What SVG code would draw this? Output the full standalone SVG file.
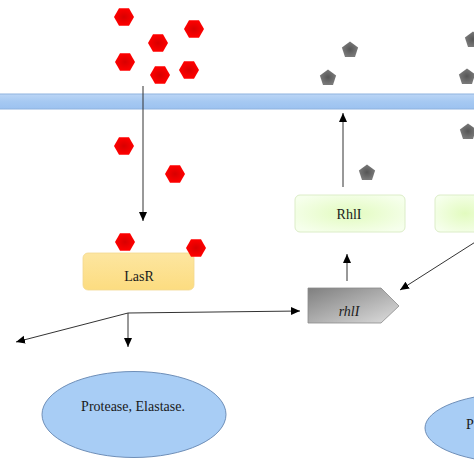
<svg xmlns="http://www.w3.org/2000/svg" width="474" height="474" viewBox="0 0 474 474">
<defs>
<linearGradient id="mem" x1="0" y1="0" x2="0" y2="1"><stop offset="0" stop-color="#bcd6f6"/><stop offset="0.5" stop-color="#a6c9f2"/><stop offset="1" stop-color="#9cc2f0"/></linearGradient>
<linearGradient id="las" x1="0" y1="0" x2="0" y2="1"><stop offset="0" stop-color="#fde6a0"/><stop offset="1" stop-color="#fcdc80"/></linearGradient>
<radialGradient id="rhl" cx="0.5" cy="0.5" r="0.6"><stop offset="0" stop-color="#e2fbbf"/><stop offset="1" stop-color="#f6ffec"/></radialGradient>
<linearGradient id="gene" x1="0" y1="0" x2="1" y2="1"><stop offset="0" stop-color="#7f7f7f"/><stop offset="1" stop-color="#dedede"/></linearGradient>
<radialGradient id="hexg"><stop offset="0" stop-color="#d80000"/><stop offset="1" stop-color="#ff0000"/></radialGradient>
<radialGradient id="peng"><stop offset="0" stop-color="#555"/><stop offset="1" stop-color="#7a7a7a"/></radialGradient>
<polygon id="hex" points="-10,0 -5,-8.7 5,-8.7 10,0 5,8.7 -5,8.7" fill="url(#hexg)"/>
<polygon id="pent" points="0,-8.5 8.1,-2.6 5,6.9 -5,6.9 -8.1,-2.6" fill="url(#peng)"/>
<marker id="ah" markerWidth="10" markerHeight="10" refX="9" refY="5" orient="auto" markerUnits="userSpaceOnUse"><path d="M0,1 L9,5 L0,9 z" fill="#000"/></marker>
</defs>
<style>
.lbl{font-family:"Liberation Serif","Times New Roman",serif;font-size:14px;fill:#1a1a1a;text-anchor:middle}
.ln{stroke:#333;stroke-width:1;fill:none}
</style>
<rect width="474" height="474" fill="#fff"/>
<rect id="membrane" x="-2" y="94" width="478" height="15" fill="url(#mem)" stroke="#8fb3df" stroke-width="1"/>
<g id="ahl">
<use href="#hex" x="124" y="17"/><use href="#hex" x="194" y="29"/><use href="#hex" x="158" y="43"/>
<use href="#hex" x="125" y="62"/><use href="#hex" x="160" y="75"/><use href="#hex" x="189" y="70"/>
<use href="#hex" x="124" y="146"/><use href="#hex" x="175" y="174"/>
</g>
<g id="ai">
<use href="#pent" x="350" y="50"/><use href="#pent" x="328" y="78"/><use href="#pent" x="467" y="77"/>
<use href="#pent" x="473" y="40"/><use href="#pent" x="468" y="132"/><use href="#pent" x="367" y="173"/>
</g>
<g id="connectors">
<line class="ln" x1="143" y1="86" x2="143" y2="221" marker-end="url(#ah)"/>
<line class="ln" x1="343" y1="187" x2="343" y2="113" marker-end="url(#ah)"/>
<line class="ln" x1="347" y1="281" x2="347" y2="254" marker-end="url(#ah)"/>
<polyline class="ln" points="128,313 300,311" marker-end="url(#ah)"/>
<line class="ln" x1="128" y1="313" x2="128" y2="347" marker-end="url(#ah)"/>
<line class="ln" x1="128" y1="313" x2="16" y2="342" marker-end="url(#ah)"/>
<line class="ln" x1="480" y1="239" x2="400" y2="290" marker-end="url(#ah)"/>
</g>
<g id="LasR">
<rect x="83" y="253" width="111" height="37" rx="5" fill="url(#las)" stroke="#f3d890" stroke-width="0.8"/>
<text class="lbl" x="139" y="281">LasR</text>
</g>
<g id="ahl-bound"><use href="#hex" x="125" y="242"/><use href="#hex" x="196" y="248"/></g>
<g id="RhlI">
<rect x="295" y="195" width="110" height="37" rx="5" fill="url(#rhl)" stroke="#dcedc8" stroke-width="1"/>
<text class="lbl" x="349" y="219">RhlI</text>
</g>
<g id="box2">
<rect x="435" y="195" width="60" height="37" rx="5" fill="url(#rhl)" stroke="#dcedc8" stroke-width="1"/>
</g>
<g id="rhlI">
<polygon points="308,288 381,288 399,306 381,323 308,323" fill="url(#gene)" stroke="#8a8a8a" stroke-width="0.8"/>
<text class="lbl" x="349" y="316" font-style="italic">rhlI</text>
</g>
<g id="protease">
<ellipse cx="134" cy="414.5" rx="92" ry="43" fill="#a8cdf5" stroke="#6f8fb8" stroke-width="1"/>
<text class="lbl" x="133" y="411">Protease, Elastase.</text>
</g>
<g id="ellipse2">
<ellipse cx="518" cy="428" rx="93" ry="35" fill="#a8cdf5" stroke="#6f8fb8" stroke-width="1"/>
<text class="lbl" x="470" y="429">P</text>
</g>
</svg>
